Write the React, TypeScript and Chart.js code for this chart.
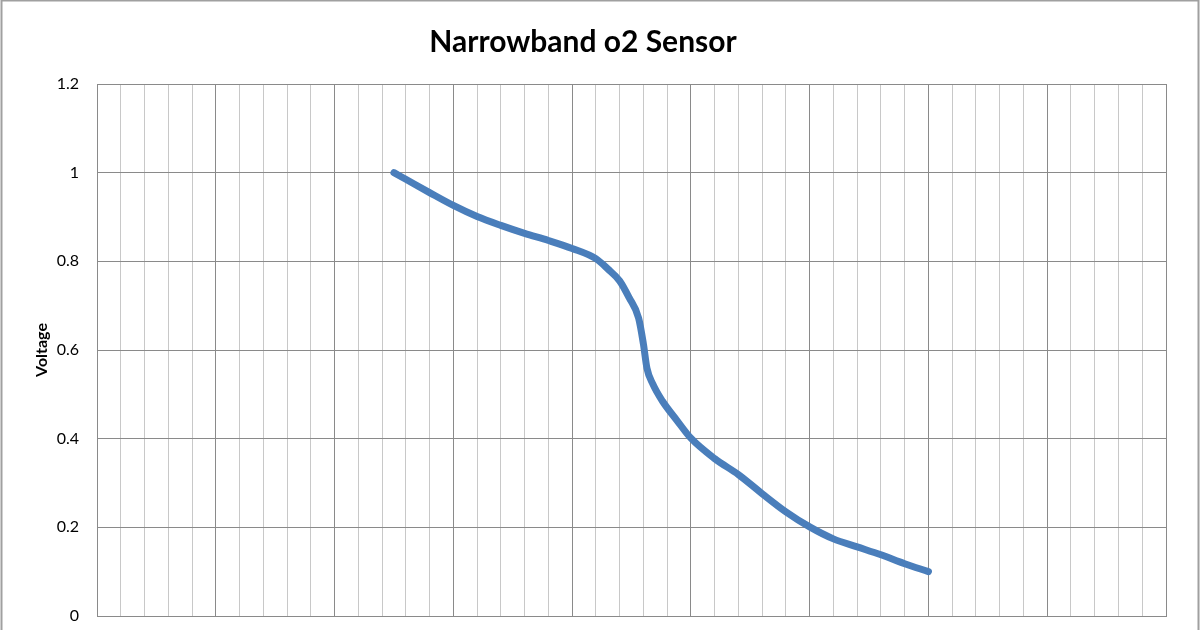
import React, { useEffect, useRef } from "react";
import { Chart, registerables } from "chart.js";

Chart.register(...registerables);

const chartTitle = "Narrowband o2 Sensor";
const yAxisTitle = "Voltage";
// x positions in grid units (one unit = one minor grid cell)
const xPositions = [12.5, 13, 14, 15, 16, 17, 18, 19, 20, 21, 21.5, 22, 22.4, 22.8, 23, 23.15, 23.4, 23.8, 24.4, 25, 26, 27, 28, 29, 30, 31, 32, 33, 34, 35];
const voltage = [1.0, 0.985, 0.955, 0.926, 0.901, 0.881, 0.863, 0.847, 0.829, 0.806, 0.783, 0.756, 0.718, 0.672, 0.614, 0.559, 0.523, 0.485, 0.442, 0.401, 0.355, 0.319, 0.276, 0.235, 0.201, 0.174, 0.156, 0.138, 0.118, 0.1];
const xMin = 0;
const xMax = 45;
const yMin = 0;
const yMax = 1.2;
const yStep = 0.2;

const frame = {
  id: "frame",
  afterDraw(chart: any) {
    const { ctx, width } = chart;
    ctx.save();
    ctx.strokeStyle = "#a0a0a0";
    ctx.lineWidth = 2;
    ctx.beginPath();
    ctx.moveTo(1.5, 700);
    ctx.lineTo(1.5, 0.5);
    ctx.lineTo(width - 1.5, 0.5);
    ctx.lineTo(width - 1.5, 700);
    ctx.stroke();
    ctx.restore();
  },
};

export default function App() {
  const ref = useRef<HTMLCanvasElement>(null);
  useEffect(() => {
    document.body.style.margin = "0";
    const chart = new Chart(ref.current as HTMLCanvasElement, {
      type: "line",
      data: {
        datasets: [
          {
            data: xPositions.map((x, i) => ({ x, y: voltage[i] })),
            borderColor: "#4a7ebb",
            borderWidth: 7,
            borderCapStyle: "round",
            borderJoinStyle: "round",
            pointRadius: 0,
            cubicInterpolationMode: "monotone",
            fill: false,
          },
        ],
      },
      options: {
        responsive: false,
        animation: false,
        layout: { padding: { left: 0, right: 34, top: 0, bottom: 14 } },
        plugins: {
          legend: { display: false },
          tooltip: { enabled: false },
          title: {
            display: true,
            text: chartTitle,
            color: "#000",
            font: { family: "Lato", size: 30, weight: "bold" },
            padding: { top: 24, bottom: 24 },
          },
        },
        scales: {
          x: {
            type: "linear",
            min: xMin,
            max: xMax,
            ticks: { display: false, stepSize: 1, autoSkip: false, maxTicksLimit: 100 },
            grid: {
              drawTicks: false,
              lineWidth: 1,
              color: (c: any) => (Math.round(c.tick.value) % 5 === 0 ? "#8a8a8a" : "#c8c8c8"),
            },
            border: { color: "#8a8a8a", width: 1 },
            afterFit: (s: any) => {
              s.height = 0;
            },
          },
          y: {
            min: yMin,
            max: yMax,
            ticks: {
              stepSize: yStep,
              color: "#000",
              padding: 0,
              font: { family: "Lato", size: 16 },
              callback: (v: any) => String(Math.round(Number(v) * 10) / 10),
            },
            grid: {
              drawTicks: true,
              tickLength: 18,
              tickColor: "rgba(0,0,0,0)",
              color: "#8a8a8a",
              lineWidth: 1,
            },
            border: { color: "#8a8a8a", width: 1 },
            title: {
              display: true,
              text: yAxisTitle,
              color: "#000",
              font: { family: "Lato", size: 16, weight: "bold" },
              padding: { top: 32, bottom: 0 },
            },
            afterFit: (s: any) => {
              s.width = 97;
            },
          },
        },
      },
      plugins: [frame],
    });
    return () => chart.destroy();
  }, []);
  return (
    <div style={{ width: 1200, height: 630, overflow: "hidden", background: "#fff" }}>
      <canvas ref={ref} width={1200} height={630} style={{ display: "block" }} />
    </div>
  );
}
